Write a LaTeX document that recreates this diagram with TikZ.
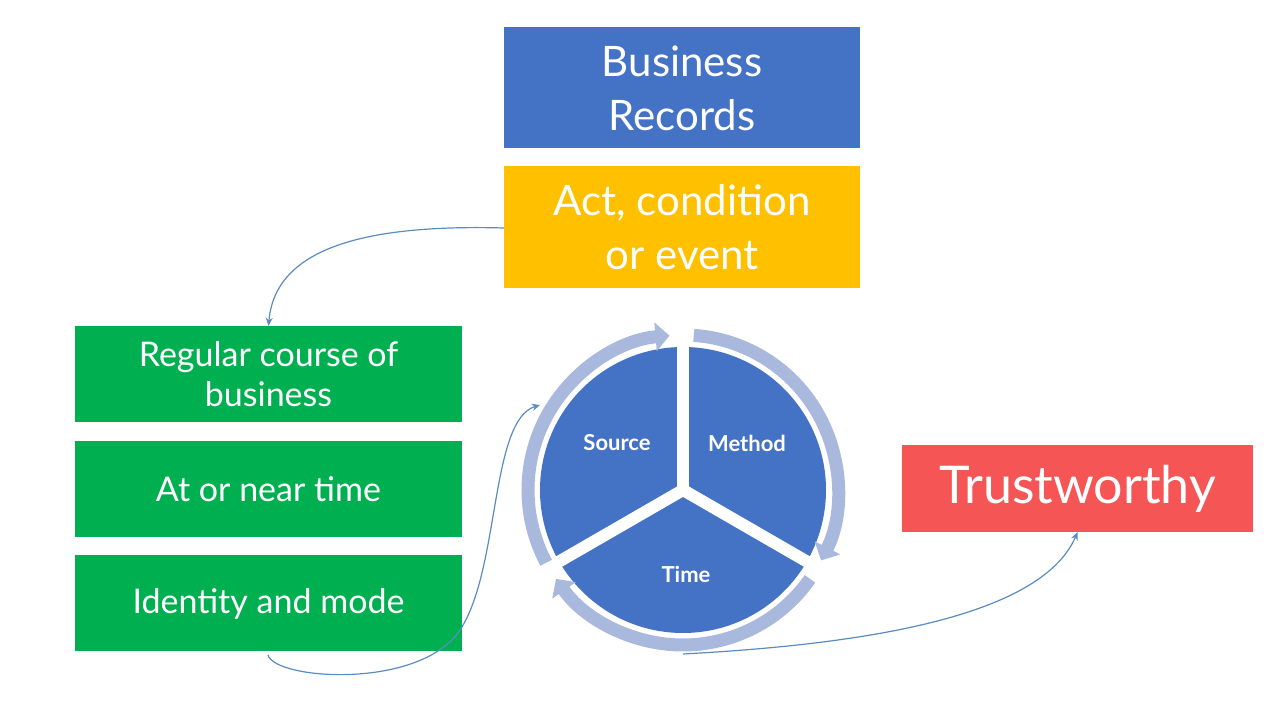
\documentclass[tikz,border=0pt]{standalone}
\usepackage{fontspec}
\setmainfont{Lato}
\usetikzlibrary{arrows.meta}
\definecolor{bblue}{HTML}{4472C4}
\definecolor{byel}{HTML}{FFC000}
\definecolor{bgreen}{HTML}{00B050}
\definecolor{bred}{HTML}{F55555}
\definecolor{ring}{HTML}{A9B8DD}
\definecolor{conn}{HTML}{5B8CC0}
\begin{document}
\begin{tikzpicture}[x=1pt,y=1pt,
 box/.style={draw=none,minimum width=#1,inner sep=0pt,align=center,text=white},
 gbox/.style={fill=bgreen,minimum width=387pt,minimum height=96pt,inner sep=0pt,align=center,text=white,font=\fontsize{34}{40}\selectfont},
 link/.style={draw=conn,line width=1.2pt,-{Stealth[length=8pt,width=7pt]}},
 ringarr/.style={draw=ring,line width=13pt,-{Triangle[width=28pt,length=14pt]}},
 lab/.style={text=white,font=\bfseries\fontsize{22}{26}\selectfont}]
\useasboundingbox (0,0) rectangle (1280,720);
\fill[white] (0,0) rectangle (1280,720);
\node[box=356pt,fill=bblue,minimum height=121pt,font=\fontsize{42}{54}\selectfont] (br) at (682,632) {Business\\Records};
\node[box=356pt,fill=byel,minimum height=122pt,font=\fontsize{42}{54}\selectfont] (act) at (682,493) {Act, condition\\or event};
\node[gbox] (reg) at (268.5,346) {Regular course of\\business};
\node[gbox] (near) at (268.5,231) {At or near time};
\node[gbox] (ident) at (268.5,116.5) {Identity and mode};
\node[box=351pt,fill=bred,minimum height=87pt,font=\fontsize{52}{60}\selectfont] (tw) at (1077.5,231.5) {Trustworthy};
% cycle
\coordinate (c) at (683,230);
\fill[bblue] (c) circle (143);
\foreach \a in {90,210,330} \draw[white,line width=12pt] (c) -- ++(\a:146);
\draw[ringarr] (c) ++(208:155) arc[start angle=208,end angle=95,radius=155];
\draw[ringarr] (c) ++(86:155) arc[start angle=86,end angle=-27,radius=155];
\draw[ringarr] (c) ++(-35:155) arc[start angle=-35,end angle=-145,radius=155];
\node[lab] (src) at (617,277) {Source};
\node[lab] (meth) at (747,277) {Method};
\node[lab] (time) at (686,146) {Time};
% connectors
\path[link] (act.west) ++(0,-1) .. controls (360,496) and (275,470) .. (reg.north);
\coordinate (s2) at (268,65);
\coordinate (e2) at (540,315);
\path[link] (s2) .. controls (275,40) and (420,30) .. (460,90) .. controls (500,150) and (490,300) .. (e2);
\coordinate (s3) at (683,66);
\path[link] (s3) .. controls (850,75) and (1040,100) .. (tw.south);
\end{tikzpicture}
\end{document}
